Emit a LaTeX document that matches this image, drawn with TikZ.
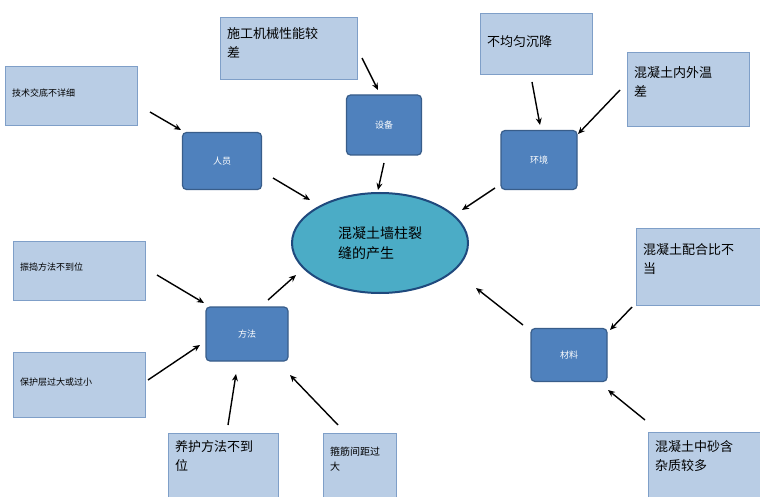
\documentclass[tikz,border=0pt]{standalone}
\usepackage{fontspec}
\setmainfont{Noto Sans CJK SC}
\usetikzlibrary{shapes.geometric,arrows.meta}
\definecolor{dk}{HTML}{4F81BD}
\definecolor{dkb}{HTML}{385D8A}
\definecolor{lt}{HTML}{B9CDE5}
\definecolor{ltb}{HTML}{7F9FC8}
\definecolor{teal}{HTML}{4BACC6}
\definecolor{navy}{HTML}{1F497D}
\tikzset{
 cat/.style={draw=dkb,fill=dk,rounded corners=4pt,line width=1.2pt,text=white,font=\fontsize{9}{11}\selectfont,inner sep=0pt},
 leaf/.style={draw=ltb,fill=lt,line width=0.8pt,inner sep=0pt},
 arr/.style={-{Stealth[length=7pt,width=6pt]},line width=1.4pt,black}
}
\newcommand{\leafnode}[8]{% name,x1,y1,x2,y2,fontsize,text-top-offset,text
 \pgfmathsetmacro{\lw}{#4-#2}\pgfmathsetmacro{\lh}{#5-#3}
 \node[leaf,minimum width=\lw pt,minimum height=\lh pt,anchor=north west] (#1) at (#2,#3) {};
 \node[anchor=north west,align=left,font=\fontsize{#6pt}{\dimexpr #6pt*15/10\relax}\selectfont,inner sep=0pt] (#1t) at ($(#2,#3)+(7,#7)$) {#8};
}
\usetikzlibrary{calc}
\begin{document}
\begin{tikzpicture}[x=1pt,y=-1pt]
\useasboundingbox[fill=white] (0,0) rectangle (760,497);
\node[ellipse,draw=navy,fill=teal,line width=2pt,minimum width=176,minimum height=100,align=left,font=\fontsize{14}{20}\selectfont] (c) at (380,243) {混凝土墙柱裂\\缝的产生};
\node[cat,minimum width=79,minimum height=57] (ry) at (222,161) {人员};
\node[cat,minimum width=75,minimum height=60] (sb) at (384,125) {设备};
\node[cat,minimum width=76,minimum height=59] (hj) at (539,160) {环境};
\node[cat,minimum width=82,minimum height=54] (ff) at (247,334) {方法};
\node[cat,minimum width=76,minimum height=53] (cl) at (569,355) {材料};
\leafnode{a1}{5}{66}{137}{125}{9}{23}{技术交底不详细}
\leafnode{a2}{220}{17}{357}{79}{13}{10}{施工机械性能较\\差}
\leafnode{a3}{480}{13}{592}{74}{13}{22}{不均匀沉降}
\leafnode{a4}{627}{52}{749}{126}{13}{14}{混凝土内外温\\差}
\leafnode{a5}{13}{241}{145}{300}{9}{22}{振捣方法不到位}
\leafnode{a6}{636}{228}{760}{305}{13}{15}{混凝土配合比不\\当}
\leafnode{a7}{13}{352}{145}{417}{9}{26}{保护层过大或过小}
\leafnode{a8}{168}{433}{278}{497}{13}{7}{养护方法不到\\位}
\leafnode{a9}{323}{433}{396}{497}{10}{14}{箍筋间距过\\大}
\leafnode{a10}{648}{432}{760}{497}{13}{8}{混凝土中砂含\\杂质较多}
\foreach \n/\x/\y in {s1/150/112,e1/181/130, s2/273/178,e2/310/200, s3/362/58,e3/378/90,
 s4/384/163,e4/378/190, s5/532/82,e5/540/125, s6/620/90,e6/578/134, s7/495/188,e7/462/210,
 s8/632/307,e8/610/330, s9/523/325,e9/476/288, s10/645/420,e10/608/390, s11/268/300,e11/296/275,
 s12/157/275,e12/204/303, s13/148/380,e13/200/345, s14/228/425,e14/236/374, s15/338/425,e15/290/375}
 \coordinate (\n) at (\x,\y);
\foreach \i in {1,...,15} \draw[arr] (s\i) -- (e\i);
\end{tikzpicture}
\end{document}
